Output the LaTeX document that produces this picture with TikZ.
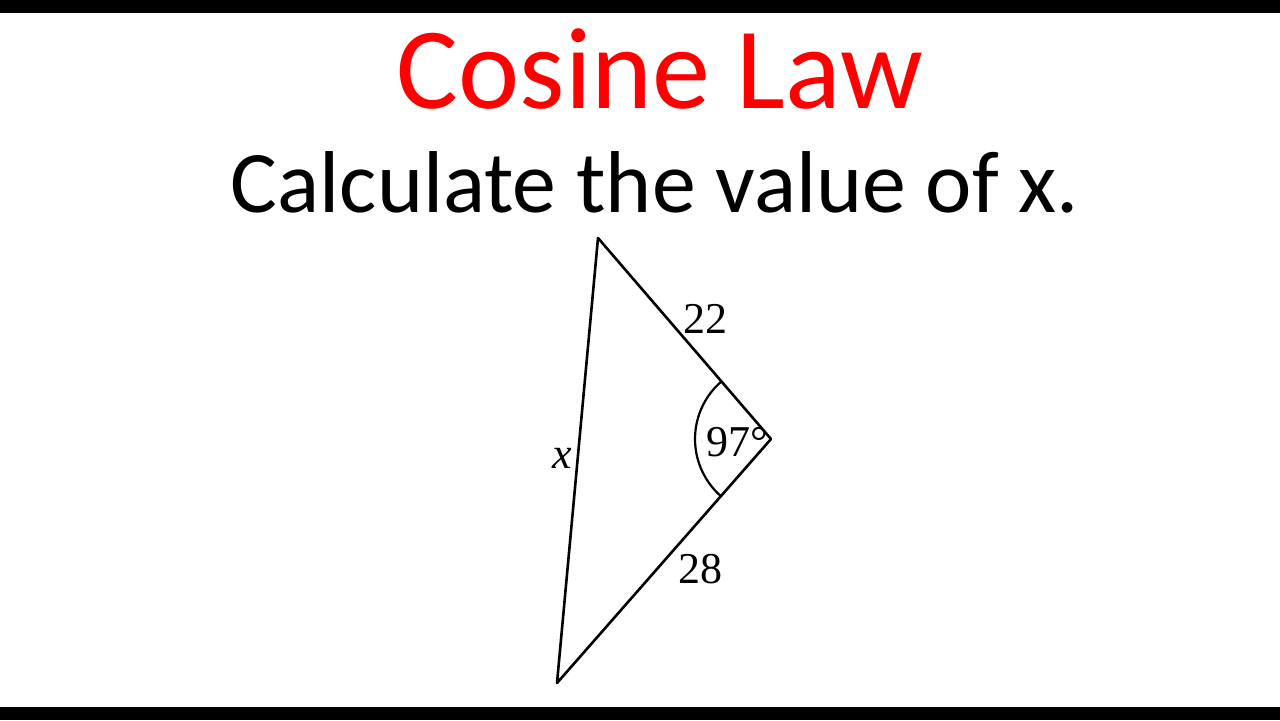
\documentclass[tikz,border=0pt]{standalone}
\usepackage{fontspec}
\usepackage{xcolor}
\usetikzlibrary{angles}
\setmainfont{Liberation Serif}
\newfontfamily\headfont{Carlito}
\definecolor{titlered}{RGB}{255,0,0}

\begin{document}
\begin{tikzpicture}[x=0.5pt,y=-0.5pt,
    side/.style={line width=1.3pt,line join=round},
    lbl/.style={inner sep=0pt,font=\fontsize{22}{26}\selectfont}]
  \useasboundingbox (0,0) rectangle (1280,720);
  \fill[white] (0,0) rectangle (1280,720);
  \fill[black] (0,0) rectangle (1280,13);
  \fill[black] (0,707) rectangle (1280,720);
  \node[anchor=base,inner sep=0pt,text=titlered,font=\headfont\fontsize{58}{70}\selectfont] (title) at (660,108) {Cosine Law};
  \node[anchor=base,inner sep=0pt,font=\headfont\fontsize{43.9}{52}\selectfont] (task) at (655,212) {Calculate the value of x.};
  \coordinate (T) at (598,238);
  \coordinate (R) at (771,439);
  \coordinate (B) at (557,683);
  \draw[side] (T) -- (R) -- (B) -- cycle;
  \pic[draw,line width=1.1pt,angle radius=38pt] {angle = T--R--B};
  \node[lbl] (ab) at (705,319) {22};
  \node[lbl] (bc) at (700,569) {28};
  \node[lbl] (ang) at (737,442) {97°};
  \node[lbl] (ca) at (562,458) {\itshape x};
\end{tikzpicture}
\end{document}
